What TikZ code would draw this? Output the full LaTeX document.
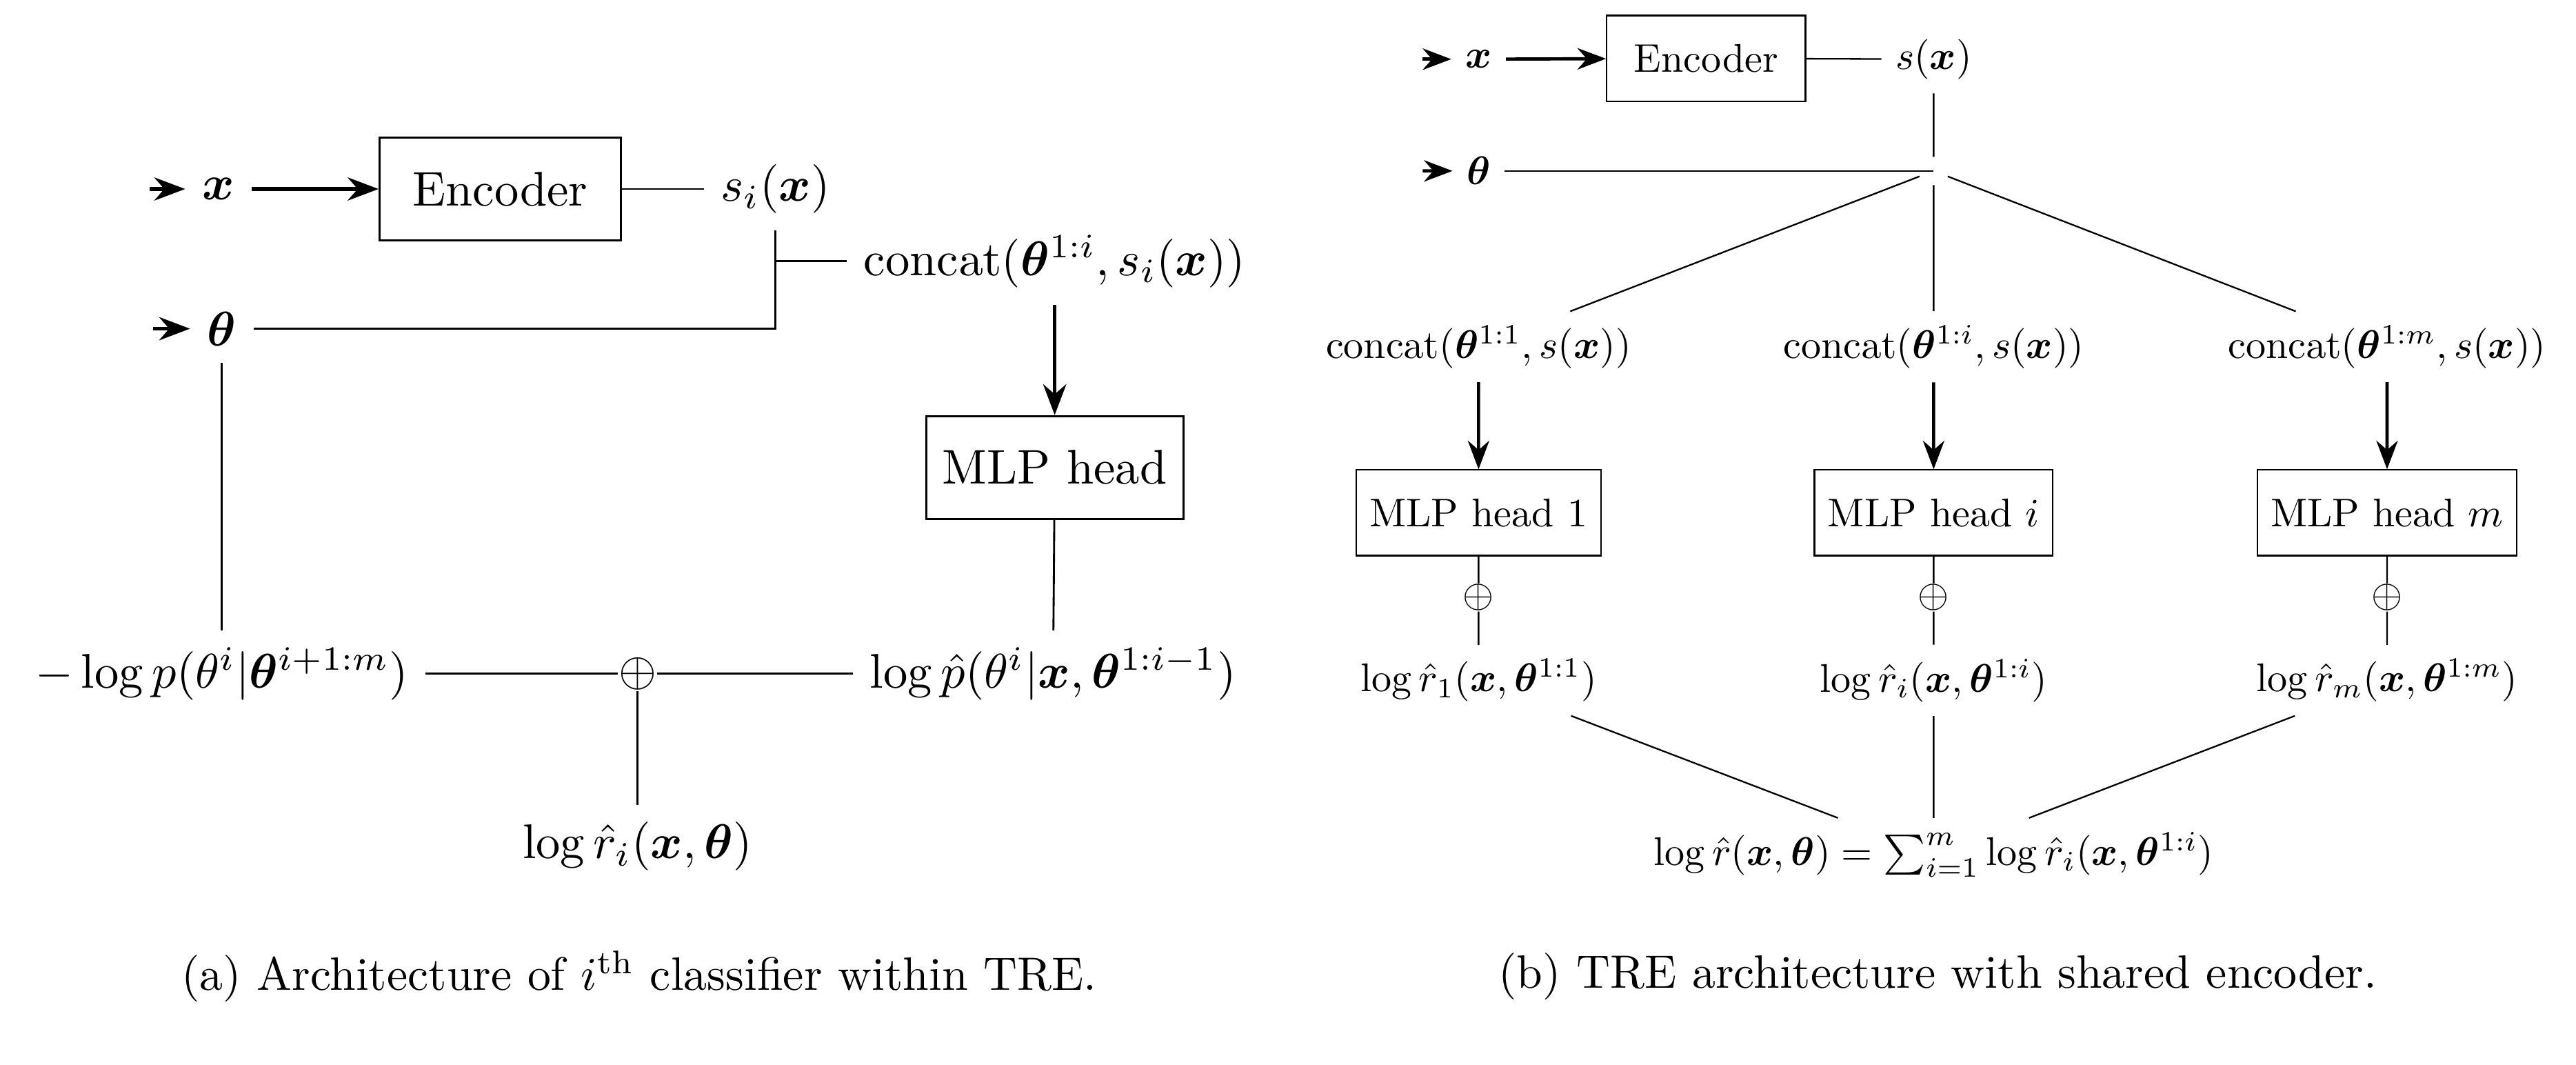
\RequirePackage{fix-cm}
\documentclass[tikz,border=0pt]{standalone}
\usepackage{amsmath}
\usepackage{bm}
\usetikzlibrary{arrows.meta}

\begin{document}
\begin{tikzpicture}[x=1.234mm, y=1.234mm,
    lfont/.style={font=\fontsize{10.4}{12.5}\selectfont, inner sep=3.5pt},
    rfont/.style={scale=0.855},
    lbox/.style={lfont, draw, line width=0.42pt, minimum height=22pt},
    rbox/.style={rfont, draw, line width=0.34pt, minimum height=21.4pt},
    lline/.style={line width=0.42pt},
    rline/.style={line width=0.34pt},
    lflow/.style={-Stealth, line width=0.8pt},
    rflow/.style={-Stealth, line width=0.69pt}]
        \useasboundingbox (0, 0) rectangle (156.8, 64.8);

        % (a) one classifier
        \coordinate (xin) at (9.1, 53.3);
        \coordinate (thetain) at (9.3, 44.8);
        \node (x) at (13.3, 53.3) [lfont] {$\bm{x}$};
        \node (theta) at (13.5, 44.8) [lfont] {$\bm{\theta}$};
        \node (enc) at (30.45, 53.3) [lbox, minimum width=51.6pt] {Encoder};
        \node (si) at (47.2, 53.3) [lfont] {$s_i(\bm{x})$};
        \node (concat) at (64.2, 48.9) [lfont] {$\mathrm{concat}(\bm{\theta}^{1:i}, s_i(\bm{x}))$};
        \node (mlp) at (64.2, 36.35) [lbox] {MLP head};
        
        \node (logp) at (13.5, 23.8) [lfont] {$-\log p(\theta^i|\bm{\theta}^{i+1:m})$};
        \node (oplus) at (38.8, 23.8) [lfont, inner sep=0pt] {$\oplus$};
        \node (logphat) at (64.1, 23.8) [lfont] {$\log \hat{p}(\theta^i|\bm{x}, \bm{\theta}^{1:i-1})$};
        \node (logr) at (38.8, 13.3) [lfont] {$\log \hat{r}_i(\bm{x}, \bm{\theta})$};
        
        \draw[lflow] (xin) -- (x);
        \draw[lflow] (thetain) -- (theta);
        \draw[lflow] (x) -- (enc);
        \draw[lline] (enc) -- (si);
        \draw[lline] (theta) -| (si);
        \draw[lline] (concat) -- (concat -| si);
        \draw[lflow] (concat) -- (mlp);
        \draw[lline] (mlp) -- (logphat);
        \draw[lline] (theta) -- (logp);
        \draw[lline] (logp) -- (oplus);
        \draw[lline] (oplus) -- (logphat);
        \draw[lline] (oplus) -- (logr);

        % (b) shared encoder
        \coordinate (x2in) at (86.6, 61.2);
        \coordinate (theta2in) at (86.6, 54.4);
        \node (x2) at (90.0, 61.2) [rfont] {$\bm{x}$};
        \node (theta2) at (90.0, 54.4) [rfont] {$\bm{\theta}$};
        \node (enc2) at (103.85, 61.25) [rbox, minimum width=49.7pt] {Encoder};
        \node (sx) at (117.7, 61.2) [rfont] {$s(\bm{x})$};
        \node (join) at (117.7, 54.4) [rfont] {};
        
        \node (cc1) at (90.0, 43.7) [rfont] {$\mathrm{concat}(\bm{\theta}^{1:1}, s(\bm{x}))$};
        \node (cci) at (117.7, 43.7) [rfont] {$\mathrm{concat}(\bm{\theta}^{1:i}, s(\bm{x}))$};
        \node (ccm) at (145.3, 43.7) [rfont] {$\mathrm{concat}(\bm{\theta}^{1:m}, s(\bm{x}))$};
        
        \node (mlp1) at (90.0, 33.6) [rbox] {MLP head 1};
        \node (mlpi) at (117.7, 33.6) [rbox] {MLP head $i$};
        \node (mlpm) at (145.3, 33.6) [rbox] {MLP head $m$};
        
        \node (op1) at (90.0, 28.45) [rfont, inner sep=0pt] {$\oplus$};
        \node (opi) at (117.7, 28.45) [rfont, inner sep=0pt] {$\oplus$};
        \node (opm) at (145.3, 28.45) [rfont, inner sep=0pt] {$\oplus$};
        
        \node (lr1) at (90.0, 23.4) [rfont] {$\log \hat{r}_1(\bm{x}, \bm{\theta}^{1:1})$};
        \node (lri) at (117.7, 23.4) [rfont] {$\log \hat{r}_i(\bm{x}, \bm{\theta}^{1:i})$};
        \node (lrm) at (145.3, 23.4) [rfont] {$\log \hat{r}_m(\bm{x}, \bm{\theta}^{1:m})$};
        \node (sum) at (117.7, 12.8) [rfont] {$\log \hat{r}(\bm{x}, \bm{\theta}) = \sum_{i=1}^{m} \log \hat{r}_i(\bm{x}, \bm{\theta}^{1:i})$};
        
        \draw[rflow] (x2in) -- (x2);
        \draw[rflow] (theta2in) -- (theta2);
        \draw[rflow] (x2) -- (enc2);
        \draw[rline] (enc2) -- (sx);
        \draw[rline] (sx) -- (join);
        \draw[rline] (theta2) -- (join.center);
        \draw[rline] (join) -- (cc1);
        \draw[rline] (join) -- (cci);
        \draw[rline] (join) -- (ccm);
        \draw[rflow] (cc1) -- (mlp1);
        \draw[rflow] (cci) -- (mlpi);
        \draw[rflow] (ccm) -- (mlpm);
        \draw[rline] (mlp1) -- (op1);
        \draw[rline] (mlpi) -- (opi);
        \draw[rline] (mlpm) -- (opm);
        \draw[rline] (op1) -- (lr1);
        \draw[rline] (opi) -- (lri);
        \draw[rline] (opm) -- (lrm);
        \draw[rline] (lr1) -- (sum);
        \draw[rline] (lri) -- (sum);
        \draw[rline] (lrm) -- (sum);

        % captions
        \node (capa) at (38.9, 5.4) {(a) Architecture of $i^{\mathrm{th}}$ classifier within TRE.};
        \node (capb) at (117.95, 5.4) {(b) TRE architecture with shared encoder.};
    \end{tikzpicture}
\end{document}
